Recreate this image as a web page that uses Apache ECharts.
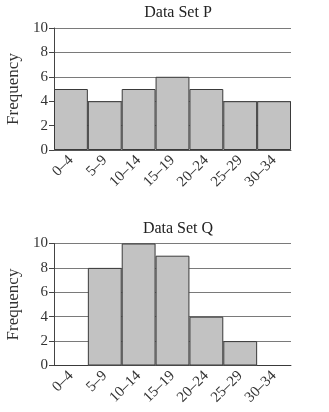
<!DOCTYPE html>
<html>
<head>
<meta charset="utf-8">
<script src="https://cdn.jsdelivr.net/npm/echarts@6/dist/echarts.min.js"></script>
<style>
  html, body { margin: 0; padding: 0; background: #fff; }
  #chart { width: 329px; height: 412px; }
</style>
</head>
<body>
<div id="chart"></div>
<script>
// Age-group bins shared by both histograms
const categories = ['0–4', '5–9', '10–14', '15–19', '20–24', '25–29', '30–34'];
// Frequencies per bin
const valuesP = [5, 4, 5, 6, 5, 4, 4];
const valuesQ = [0, 8, 10, 9, 4, 2, 0];
const titles = ['Data Set P', 'Data Set Q'];
const yTicks = { min: 0, max: 10, interval: 2 };

const FONT = '"Liberation Serif", "DejaVu Serif", serif';
const gridTops = [28, 243.5];

const chart = echarts.init(document.getElementById('chart'), null, { renderer: 'canvas' });

function xAxisFor(i) {
  return {
    type: 'category',
    gridIndex: i,
    data: categories,
    axisLine: { show: true, lineStyle: { color: '#555', width: 1 } },
    axisTick: { show: false },
    axisLabel: {
      rotate: 45,
      margin: 8,
      interval: 0,
      color: '#333',
      fontFamily: FONT,
      fontSize: 15
    }
  };
}

function yAxisFor(i) {
  return {
    type: 'value',
    gridIndex: i,
    min: yTicks.min,
    max: yTicks.max,
    interval: yTicks.interval,
    name: 'Frequency',
    nameLocation: 'middle',
    nameGap: 32,
    nameRotate: 90,
    nameTextStyle: { color: '#333', fontFamily: FONT, fontSize: 17 },
    axisLine: { show: true, lineStyle: { color: '#444', width: 1 } },
    axisTick: { show: true, length: 5, lineStyle: { color: '#444' } },
    axisLabel: { color: '#333', fontFamily: FONT, fontSize: 15, margin: 6 },
    splitLine: { show: true, lineStyle: { color: '#7a7a7a', width: 1 } }
  };
}

const option = {
  animation: false,
  title: titles.map((t, i) => ({
    text: t,
    left: 173,
    textAlign: 'center',
    top: i === 0 ? 0 : 216,
    textStyle: { color: '#222', fontFamily: FONT, fontSize: 16, fontWeight: 'normal' }
  })),
  grid: gridTops.map(top => ({
    left: 54, width: 237, top: top, height: 122,
    containLabel: false, outerBoundsMode: 'none'
  })),
  xAxis: [xAxisFor(0), xAxisFor(1)],
  yAxis: [yAxisFor(0), yAxisFor(1)],
  series: [valuesP, valuesQ].map((vals, i) => ({
    type: 'bar',
    xAxisIndex: i,
    yAxisIndex: i,
    data: vals,
    barWidth: '100%',
    barGap: 0,
    itemStyle: { color: '#c2c2c2', borderColor: '#3a3a3a', borderWidth: 1 }
  }))
};

chart.setOption(option);
</script>
</body>
</html>
